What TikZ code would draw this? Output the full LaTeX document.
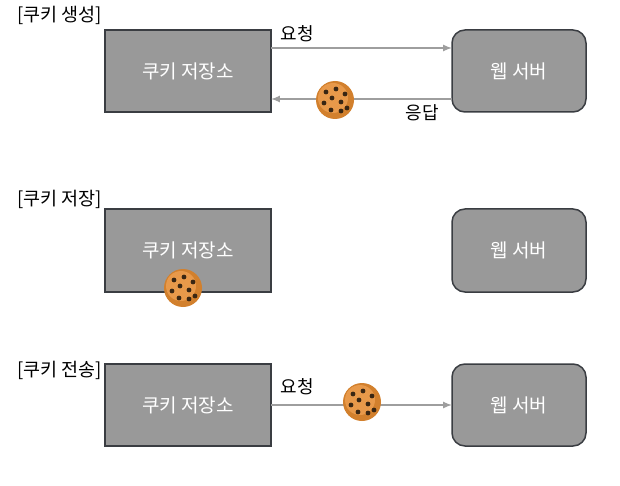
\documentclass[tikz,border=0pt]{standalone}
\usepackage{fontspec}
\setmainfont{Noto Sans CJK KR}
\begin{document}
\begin{tikzpicture}[x=1pt,y=-1pt,
  store/.style={draw=black!85!cyan,line width=1.5pt,fill=black!40,text=white,font=\fontsize{19}{22}\selectfont},
  server/.style={store,rounded corners=13pt},
  arr/.style={draw=black!38,line width=2pt,-latex},
  lab/.style={font=\fontsize{18}{20}\selectfont,inner sep=0pt},
  ttl/.style={font=\fontsize{18.5}{20}\selectfont,inner sep=0pt,anchor=west}]
\useasboundingbox (0,0) rectangle (620,486);
\newcommand{\cookie}[2]{%
  \begin{scope}[shift={(#1)}]
  \fill[brown!70!orange] (0,0) circle (19);
  \fill[orange!55!brown!80!white] (-2,-2) circle (15);
  \foreach \p in {(-9,-8),(1,-11),(10,-6),(-3,-2),(6,2),(-11,3),(-4,10),(6,11),(12,8)}
    \fill[brown!30!black] \p circle (2.4);
  \end{scope}}
% row 1
\node[ttl] (t1) at (17,15) {[쿠키 생성]};
\node[store,minimum width=166pt,minimum height=82pt] (s1) at (188,71) {쿠키 저장소};
\node[server,minimum width=134pt,minimum height=82pt] (w1) at (519,71) {웹 서버};
\coordinate (a1) at (271,48); \coordinate (b1) at (452,48);
\coordinate (a2) at (452,99); \coordinate (b2) at (271,99);
\draw[arr] (a1) -- (b1);
\draw[arr] (a2) -- (b2);
\node[lab] (q1) at (297,34) {요청};
\node[lab] (r1) at (422,113) {응답};
\cookie{335,100}{}
% row 2
\node[ttl] (t2) at (17,199) {[쿠키 저장]};
\node[store,minimum width=166pt,minimum height=83pt] (s2) at (188,250.5) {쿠키 저장소};
\node[server,minimum width=134pt,minimum height=83pt] (w2) at (519,250.5) {웹 서버};
\cookie{183,288}{}
% row 3
\node[ttl] (t3) at (17,370) {[쿠키 전송]};
\node[store,minimum width=166pt,minimum height=82pt] (s3) at (188,405) {쿠키 저장소};
\node[server,minimum width=134pt,minimum height=82pt] (w3) at (519,405) {웹 서버};
\coordinate (a3) at (271,405); \coordinate (b3) at (452,405);
\draw[arr] (a3) -- (b3);
\node[lab] (q3) at (297,387) {요청};
\cookie{362,402}{}
\end{tikzpicture}
\end{document}
